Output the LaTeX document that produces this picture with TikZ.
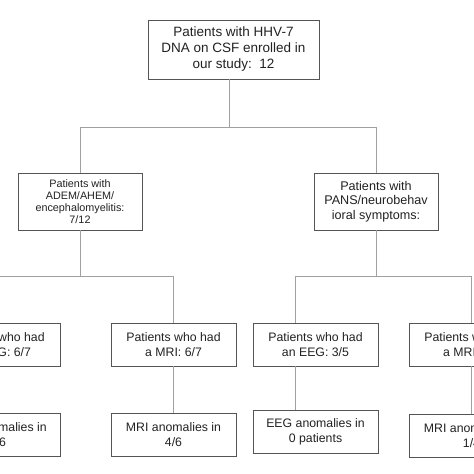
\documentclass[tikz,border=0pt]{standalone}
\usepackage{fontspec}
\setmainfont{Liberation Sans}
\usetikzlibrary{calc}
\definecolor{boxline}{HTML}{555555}
\definecolor{linkline}{HTML}{A0A0A0}
\definecolor{txt}{HTML}{222222}
\begin{document}
\begin{tikzpicture}[x=1pt,y=-1pt,
    box/.style={draw=boxline, line width=0.9pt, text=txt, align=center, inner sep=0pt,
        minimum width=125pt, minimum height=43pt, font=\fontsize{12.3}{15}\selectfont},
    link/.style={draw=linkline, line width=0.9pt}]
            \clip (0,0) rectangle (474,474);
            \fill[white] (0,0) rectangle (474,474);
            \node[box, minimum width=171pt, minimum height=59pt, font=\fontsize{13.5}{16}\selectfont] (hhv) at (233.5,49.5) {Patients with HHV-7\\DNA on CSF enrolled in\\our study:~\ 12};
            \node[box, minimum width=124pt, minimum height=57pt, font=\fontsize{10.8}{12}\selectfont] (adem) at (80,201.5) {Patients with\\ADEM/AHEM/\\encephalomyelitis:\\7/12};
            \node[box, minimum width=124pt, minimum height=57pt, font=\fontsize{12.6}{14.5}\selectfont] (pans) at (376,201.5) {Patients with\\PANS/neurobehav\\ioral symptoms:};
            % first row of exams
            \node[box] (eegA) at (-2.5,344.5) {Patients who had\\an EEG: 6/7};
            \node[box] (mriA) at (173.5,344.5) {Patients who had\\a MRI: 6/7};
            \node[box] (eegB) at (315.5,344.5) {Patients who had\\an EEG: 3/5};
            \node[box] (mriB) at (471.5,344.5) {Patients who had\\a MRI: 4/5};
            % anomalies
            \node[box] (eegA2) at (-2.5,434.5) {EEG anomalies in\\3/6};
            \node[box] (mriA2) at (173.5,435) {MRI anomalies in\\4/6};
            \node[box] (eegB2) at (315.5,432) {EEG anomalies in\\0 patients};
            \node[box] (mriB2) at (471.5,435.5) {MRI anomalies in\\1/4};
            \coordinate (top) at (229,127);
            \coordinate (lsplit) at (80,276);
            \coordinate (rsplit) at (376,276);
            \coordinate (eegBx) at (295,276);
            \draw[link] ([xshift=-4.5pt]hhv.south) -- (top);
            \draw[link] (adem.north) -- (adem.north |- top) -- (pans.north |- top) -- (pans.north);
            \draw[link] (adem.south) -- (lsplit);
            \draw[link] (eegA.north) -- (eegA.north |- lsplit) -- (mriA.north |- lsplit) -- (mriA.north);
            \draw[link] (pans.south) -- (rsplit);
            \draw[link] (eegBx |- eegB.north) -- (eegBx) -- (mriB.north |- rsplit) -- (mriB.north);
            \draw[link] (eegA.south) -- (eegA2.north);
            \draw[link] (mriA.south) -- (mriA2.north);
            \draw[link] (eegB.south -| eegBx) -- (eegB2.north -| eegBx);
            \draw[link] (mriB.south) -- (mriB2.north);
        \end{tikzpicture}
\end{document}
